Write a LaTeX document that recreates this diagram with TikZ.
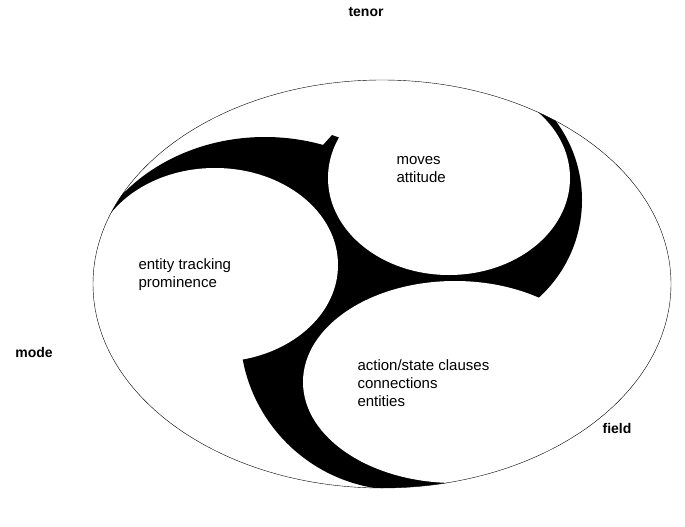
\documentclass[tikz,border=0pt]{standalone}
\usepackage{fontspec}
\setmainfont{Liberation Sans}
\begin{document}
\begin{tikzpicture}[x=1pt,y=-1pt,
  lab/.style={font=\fontsize{14}{14}\selectfont\bfseries},
  inner/.style={font=\fontsize{15}{18}\selectfont,align=left,anchor=west}]
\useasboundingbox (0,0) rectangle (685,527);
\begin{scope}
\clip (382,284) ellipse [x radius=289,y radius=204];
\fill (332,135) -- (449,178) -- (518,318) -- (455,382) -- (242,358) -- (215,265) -- cycle;
% top-left tail
\begin{scope}
\clip (80,60) -- (345,60) -- (345,150) -- (215,265) -- (80,265) -- cycle;
\fill (265,295) ellipse [x radius=185,y radius=158];
\end{scope}
% right tail
\begin{scope}
\clip (449,60) rectangle (640,318);
\fill (450,200) circle (132);
\end{scope}
% bottom tail
\begin{scope}
\clip (200,340) rectangle (455,500);
\fill (400,330) circle (160);
\end{scope}
\end{scope}
\fill[white] (449,178) ellipse [x radius=121,y radius=97];
\fill[white] (215,265) ellipse [x radius=123,y radius=97];
\fill[white] (455,382) ellipse [x radius=152,y radius=101];
\draw (382,284) ellipse [x radius=289,y radius=204];
\node[lab] (tenor) at (366,12) {tenor};
\node[lab] (mode) at (34,352) {mode};
\node[lab] (field) at (617,428) {field};
\node[inner] (t) at (393,170) {moves\\attitude};
\node[inner] (l) at (135,275) {entity tracking\\prominence};
\node[inner] (b) at (354,383) {action/state clauses\\connections\\entities};
\end{tikzpicture}
\end{document}
